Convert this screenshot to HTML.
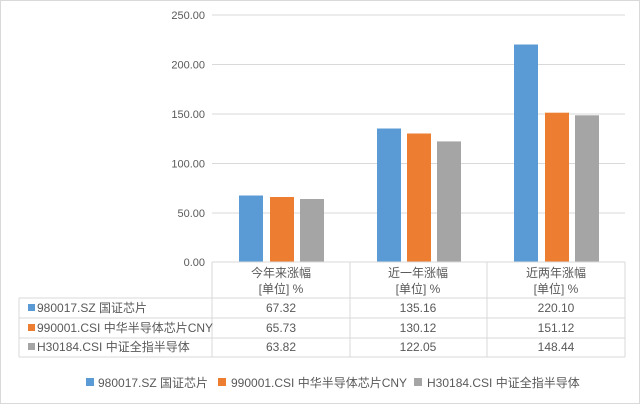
<!DOCTYPE html><html><head><style>
body{margin:0;background:#fff;}
svg text{font-family:"Liberation Sans","Noto Sans CJK SC",sans-serif;fill:#595959;font-size:11px;}
svg text.l{font-size:12px;}
</style></head><body>
<svg width="640" height="404" viewBox="0 0 640 404" xmlns="http://www.w3.org/2000/svg">
<rect x="0.5" y="0.5" width="639" height="403" fill="#fff" stroke="#d9d9d9"/>
<g stroke="#d9d9d9" stroke-width="1">
<line x1="212" y1="15" x2="625" y2="15"/><line x1="212" y1="64.5" x2="625" y2="64.5"/>
<line x1="212" y1="114" x2="625" y2="114"/><line x1="212" y1="163.5" x2="625" y2="163.5"/>
<line x1="212" y1="213" x2="625" y2="213"/>
</g>
<g text-anchor="end">
<text x="205" y="19">250.00</text><text x="205" y="68.5">200.00</text><text x="205" y="118">150.00</text>
<text x="205" y="167.5">100.00</text><text x="205" y="217">50.00</text><text x="205" y="266">0.00</text>
</g>
<g>
<rect x="239" y="195.5" width="24" height="66.5" fill="#5b9bd5"/>
<rect x="270" y="197" width="24" height="65" fill="#ed7d31"/>
<rect x="300" y="199" width="24" height="63" fill="#a5a5a5"/>
<rect x="377" y="128.5" width="24" height="133.5" fill="#5b9bd5"/>
<rect x="407" y="133.5" width="24" height="128.5" fill="#ed7d31"/>
<rect x="437" y="141.4" width="24" height="120.6" fill="#a5a5a5"/>
<rect x="514" y="44.5" width="24" height="217.5" fill="#5b9bd5"/>
<rect x="545" y="112.7" width="24" height="149.3" fill="#ed7d31"/>
<rect x="575" y="115.3" width="24" height="146.7" fill="#a5a5a5"/>
</g>
<g stroke="#d9d9d9" stroke-width="1" fill="none">
<line x1="212" y1="262" x2="625" y2="262"/>
<line x1="19" y1="298" x2="625" y2="298"/>
<line x1="19" y1="318" x2="625" y2="318"/>
<line x1="19" y1="338" x2="625" y2="338"/>
<line x1="19" y1="357" x2="625" y2="357"/>
<line x1="19" y1="298" x2="19" y2="357"/>
<line x1="212" y1="262" x2="212" y2="357"/>
<line x1="350" y1="262" x2="350" y2="357"/>
<line x1="487" y1="262" x2="487" y2="357"/>
<line x1="625" y1="262" x2="625" y2="357"/>
</g>
<g text-anchor="middle">
<text class="l" x="281" y="277">今年来涨幅</text><text class="l" x="281" y="293">[单位] %</text>
<text class="l" x="418" y="277">近一年涨幅</text><text class="l" x="418" y="293">[单位] %</text>
<text class="l" x="556" y="277">近两年涨幅</text><text class="l" x="556" y="293">[单位] %</text>
<text class="l" x="281" y="312">67.32</text><text class="l" x="418" y="312">135.16</text><text class="l" x="556" y="312">220.10</text>
<text class="l" x="281" y="332">65.73</text><text class="l" x="418" y="332">130.12</text><text class="l" x="556" y="332">151.12</text>
<text class="l" x="281" y="351">63.82</text><text class="l" x="418" y="351">122.05</text><text class="l" x="556" y="351">148.44</text>
</g>
<rect x="28" y="304" width="7" height="7" fill="#5b9bd5"/><text class="l" x="37" y="312">980017.SZ 国证芯片</text>
<rect x="28" y="324" width="7" height="7" fill="#ed7d31"/><text class="l" x="37" y="332">990001.CSI 中华半导体芯片CNY</text>
<rect x="28" y="343" width="7" height="7" fill="#a5a5a5"/><text class="l" x="37" y="351">H30184.CSI 中证全指半导体</text>
<rect x="86" y="378" width="8" height="8" fill="#5b9bd5"/><text class="l" x="98" y="387">980017.SZ 国证芯片</text>
<rect x="218" y="378" width="8" height="8" fill="#ed7d31"/><text class="l" x="231" y="387">990001.CSI 中华半导体芯片CNY</text>
<rect x="414" y="378" width="8" height="8" fill="#a5a5a5"/><text class="l" x="427" y="387">H30184.CSI 中证全指半导体</text>
</svg>
</body></html>
